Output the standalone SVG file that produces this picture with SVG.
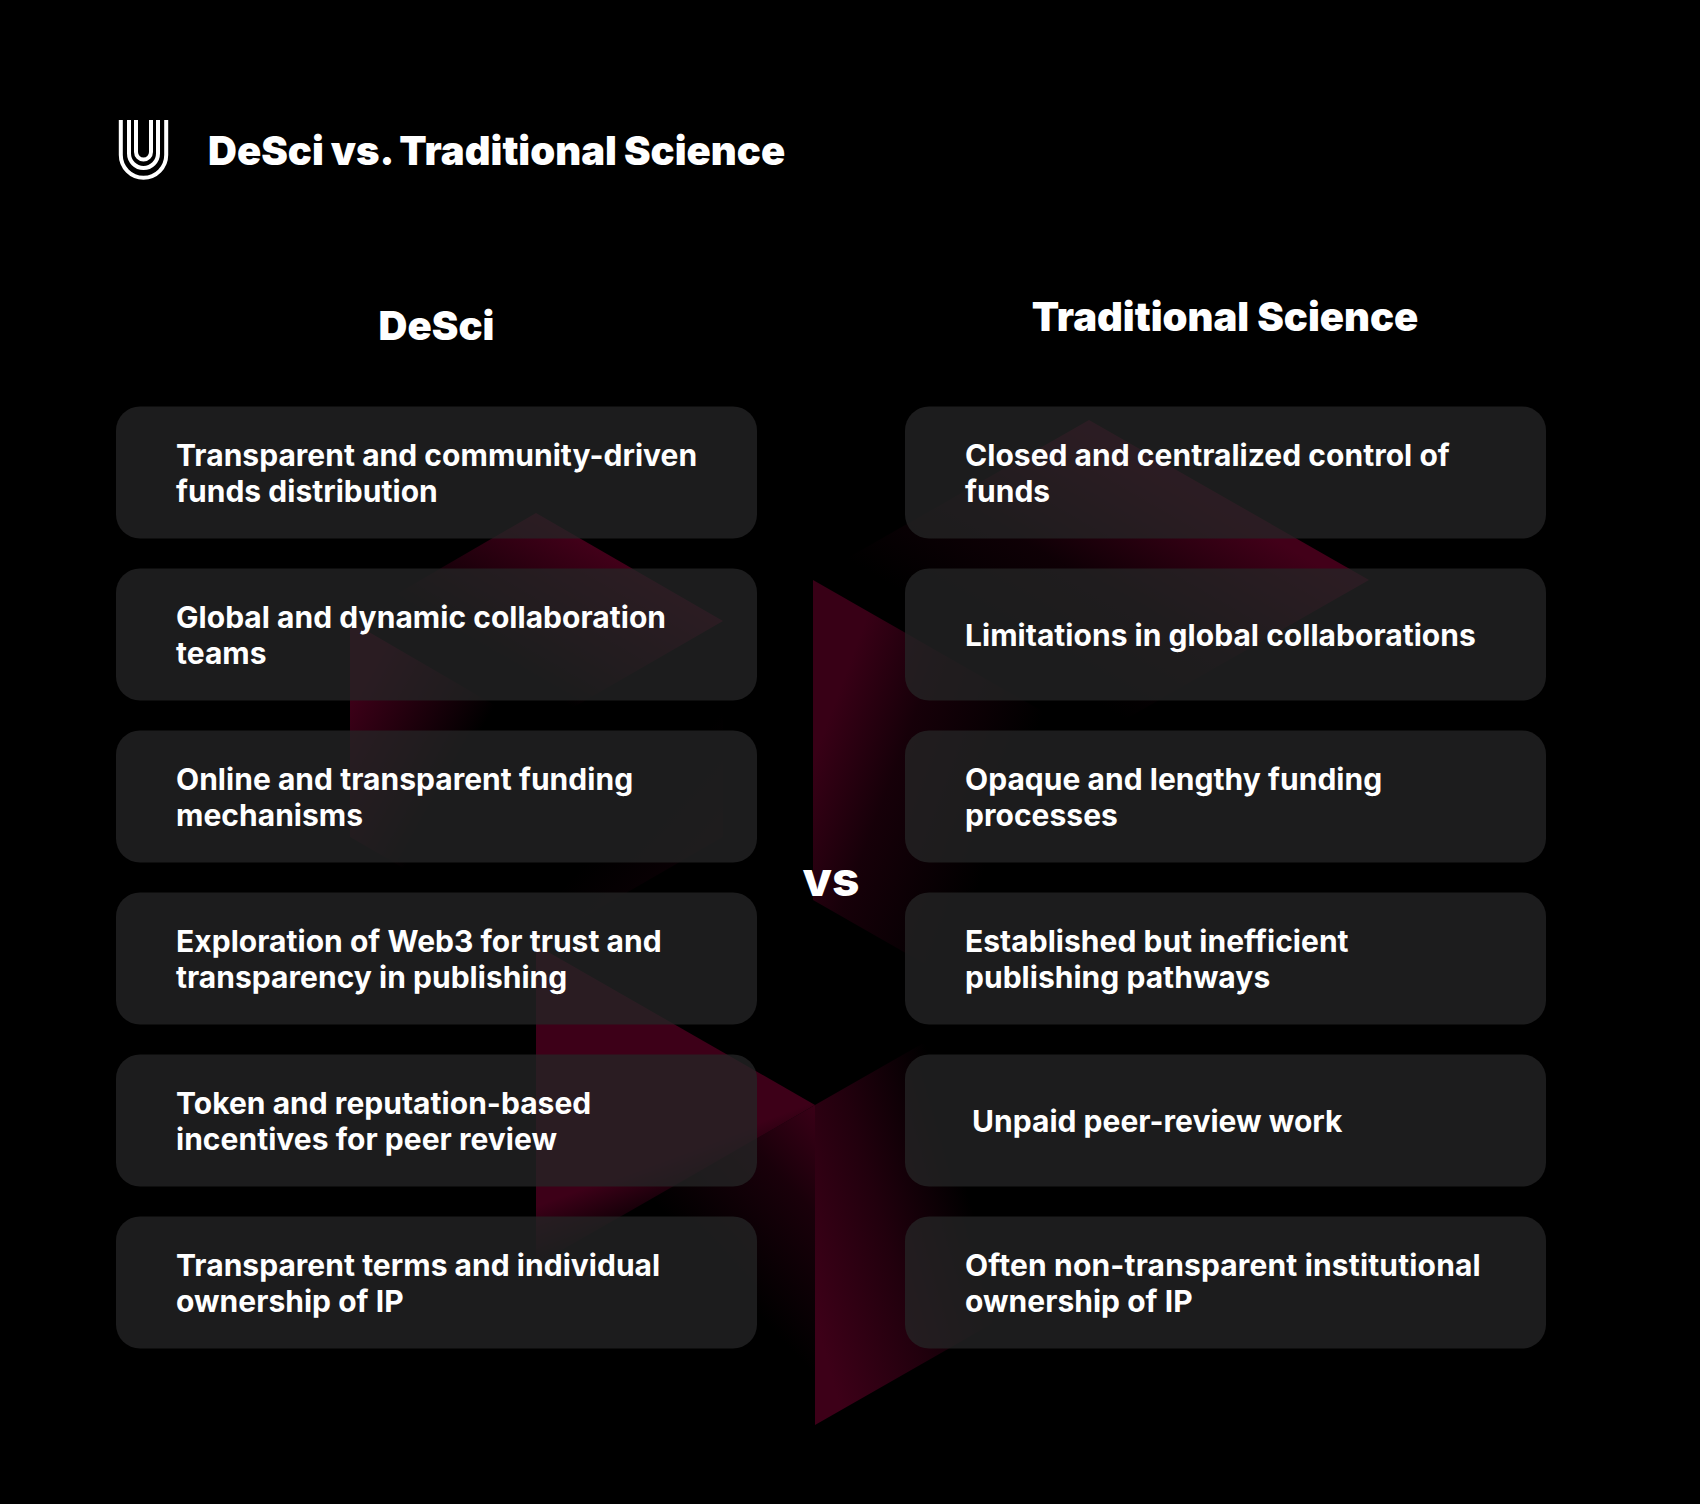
<svg xmlns="http://www.w3.org/2000/svg" width="1700" height="1504" viewBox="0 0 1700 1504">
<style>
text{font-family:"Inter","Liberation Sans",sans-serif;fill:#fff}
.h{font-size:40px;font-weight:900;font-optical-sizing:none}
.t{font-size:30px;font-weight:700;letter-spacing:.03px}
.card{fill:#252526;fill-opacity:.76}
.u{fill:none;stroke:#fff;stroke-width:4}
</style>
<defs>
<linearGradient id="g1" gradientUnits="userSpaceOnUse" x1="1206" y1="500" x2="1091" y2="700"><stop offset="0" stop-color="#420019"/><stop offset=".55" stop-color="#420019" stop-opacity=".22"/><stop offset="1" stop-color="#420019" stop-opacity="0"/></linearGradient>
<linearGradient id="g2" gradientUnits="userSpaceOnUse" x1="813" y1="760" x2="1000" y2="830"><stop offset="0" stop-color="#380016"/><stop offset=".4" stop-color="#380016" stop-opacity=".4"/><stop offset="1" stop-color="#380016" stop-opacity="0"/></linearGradient>
<linearGradient id="g3" gradientUnits="userSpaceOnUse" x1="630" y1="567" x2="555" y2="697"><stop offset="0" stop-color="#420019"/><stop offset="1" stop-color="#420019" stop-opacity="0"/></linearGradient>
<linearGradient id="g4" gradientUnits="userSpaceOnUse" x1="350" y1="700" x2="463" y2="763"><stop offset="0" stop-color="#3d0018"/><stop offset="1" stop-color="#3d0018" stop-opacity="0"/></linearGradient>
<linearGradient id="g5" gradientUnits="userSpaceOnUse" x1="723" y1="837" x2="660" y2="780"><stop offset="0" stop-color="#3d0018" stop-opacity=".18"/><stop offset="1" stop-color="#3d0018" stop-opacity="0"/></linearGradient>
<linearGradient id="g6" gradientUnits="userSpaceOnUse" x1="620" y1="1090" x2="665" y2="1210"><stop offset="0" stop-color="#3d0018"/><stop offset=".62" stop-color="#3d0018"/><stop offset="1" stop-color="#3d0018" stop-opacity=".2"/></linearGradient>
<linearGradient id="g7" gradientUnits="userSpaceOnUse" x1="815" y1="1105" x2="680" y2="1230"><stop offset="0" stop-color="#3d0018" stop-opacity=".95"/><stop offset=".4" stop-color="#3d0018" stop-opacity=".42"/><stop offset="1" stop-color="#3d0018" stop-opacity="0"/></linearGradient>
<linearGradient id="g8" gradientUnits="userSpaceOnUse" x1="815" y1="1320" x2="990" y2="1270"><stop offset="0" stop-color="#3d0018"/><stop offset=".5" stop-color="#3d0018" stop-opacity=".55"/><stop offset="1" stop-color="#3d0018" stop-opacity="0"/></linearGradient>
</defs>
<rect width="1700" height="1504" fill="#000"/>
<g id="background-shapes">
<polygon points="1089,420 1369,580 1089,740 809,580" fill="url(#g1)"/>
<polygon points="813,580 1093,740 1093,1060 813,900" fill="url(#g2)"/>
<polygon points="536,513 723,621 536,729 350,621" fill="url(#g3)"/>
<polygon points="350,621 536,729 536,945 350,837" fill="url(#g4)"/>
<polygon points="536,729 723,621 723,837 536,945" fill="url(#g5)"/>
<polygon points="536,945 815,1105 536,1265" fill="url(#g6)"/>
<polygon points="536,1265 815,1105 815,1425" fill="url(#g7)"/>
<polygon points="815,1105 1095,945 1095,1265 815,1425" fill="url(#g8)"/>
</g>
<g id="logo">
<path class="u" d="M120.8 120V155a22.7 22.7 0 0 0 45.4 0V120"/>
<path class="u" d="M129 120V153.5a14.5 14.5 0 0 0 29 0V120"/>
<path class="u" d="M136 120V152a7.5 7.5 0 0 0 15 0V120"/>
</g>
<g id="title"><text class="h" x="208" y="165" style="word-spacing:-.9px">DeSci vs. Traditional Science</text></g>
<g id="heading-desci"><text class="h" x="436.5" y="340" text-anchor="middle">DeSci</text></g>
<g id="heading-traditional"><text class="h" x="1225" y="331" text-anchor="middle">Traditional Science</text></g>
<g id="vs"><text x="831" y="896" text-anchor="middle" font-size="48" font-weight="800" style="font-optical-sizing:none">vs</text></g>
<g id="desci-1"><rect class="card" x="116" y="406.5" width="641" height="132" rx="24"/><text class="t" x="176" y="466">Transparent and community-driven</text><text class="t" x="176" y="502">funds distribution</text></g>
<g id="desci-2"><rect class="card" x="116" y="568.5" width="641" height="132" rx="24"/><text class="t" x="176" y="628">Global and dynamic collaboration</text><text class="t" x="176" y="664">teams</text></g>
<g id="desci-3"><rect class="card" x="116" y="730.5" width="641" height="132" rx="24"/><text class="t" x="176" y="790">Online and transparent funding</text><text class="t" x="176" y="826">mechanisms</text></g>
<g id="desci-4"><rect class="card" x="116" y="892.5" width="641" height="132" rx="24"/><text class="t" x="176" y="952">Exploration of Web3 for trust and</text><text class="t" x="176" y="988">transparency in publishing</text></g>
<g id="desci-5"><rect class="card" x="116" y="1054.5" width="641" height="132" rx="24"/><text class="t" x="176" y="1114">Token and reputation-based</text><text class="t" x="176" y="1150">incentives for peer review</text></g>
<g id="desci-6"><rect class="card" x="116" y="1216.5" width="641" height="132" rx="24"/><text class="t" x="176" y="1276">Transparent terms and individual</text><text class="t" x="176" y="1312">ownership of IP</text></g>
<g id="trad-1"><rect class="card" x="905" y="406.5" width="641" height="132" rx="24"/><text class="t" x="965" y="466">Closed and centralized control of</text><text class="t" x="965" y="502">funds</text></g>
<g id="trad-2"><rect class="card" x="905" y="568.5" width="641" height="132" rx="24"/><text class="t" x="965" y="646">Limitations in global collaborations</text></g>
<g id="trad-3"><rect class="card" x="905" y="730.5" width="641" height="132" rx="24"/><text class="t" x="965" y="790">Opaque and lengthy funding</text><text class="t" x="965" y="826">processes</text></g>
<g id="trad-4"><rect class="card" x="905" y="892.5" width="641" height="132" rx="24"/><text class="t" x="965" y="952">Established but inefficient</text><text class="t" x="965" y="988">publishing pathways</text></g>
<g id="trad-5"><rect class="card" x="905" y="1054.5" width="641" height="132" rx="24"/><text class="t" x="972" y="1132">Unpaid peer-review work</text></g>
<g id="trad-6"><rect class="card" x="905" y="1216.5" width="641" height="132" rx="24"/><text class="t" x="965" y="1276" style="letter-spacing:.15px">Often non-transparent institutional</text><text class="t" x="965" y="1312">ownership of IP</text></g>
</svg>
